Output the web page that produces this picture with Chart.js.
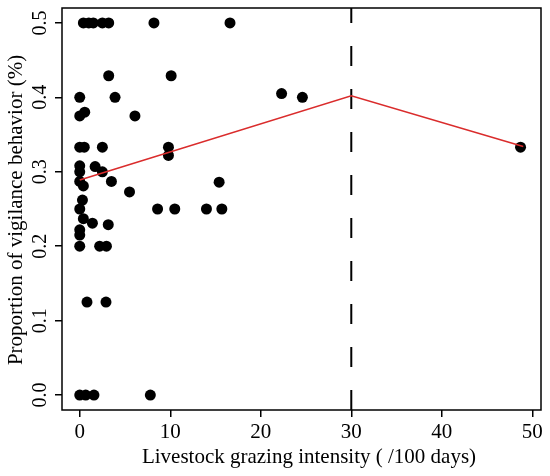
<!DOCTYPE html>
<html>
<head>
<meta charset="utf-8">
<script src="https://cdn.jsdelivr.net/npm/chart.js"></script>
<style>
html, body { margin: 0; padding: 0; background: #fff; }
</style>
</head>
<body>
<canvas id="chart" width="550" height="476"></canvas>
<script>
// Tick labels
var xTicks = [0, 10, 20, 30, 40, 50];
var yTicks = [0.0, 0.1, 0.2, 0.3, 0.4, 0.5];

// Observations: grazing intensity vs proportion of vigilance
var grazing = [0.4, 1.0, 1.5, 2.5, 3.2, 8.2, 16.6,
    3.2, 10.1,
    0, 3.9, 22.3, 24.6,
    0, 0.55, 6.1,
    0, 0.5, 2.5, 9.8, 9.8, 48.7,
    0, 0, 0, 0.4, 1.7, 2.5, 3.5, 5.5, 15.4,
    0.3, 0, 8.6, 10.5, 14.0, 15.7,
    0.4, 1.4, 3.15, 0, 0,
    0, 2.2, 2.95,
    0.8, 2.9,
    0, 0.66, 1.57, 7.8];
var vigilance = [0.5, 0.5, 0.5, 0.5, 0.5, 0.5, 0.5,
    0.429, 0.429,
    0.4, 0.4, 0.405, 0.4,
    0.375, 0.38, 0.375,
    0.333, 0.333, 0.333, 0.333, 0.322, 0.333,
    0.308, 0.3, 0.287, 0.281, 0.307, 0.3, 0.287, 0.273, 0.286,
    0.262, 0.25, 0.25, 0.25, 0.25, 0.25,
    0.237, 0.231, 0.229, 0.222, 0.215,
    0.2, 0.2, 0.2,
    0.125, 0.125,
    0, 0, 0, 0];

// Piecewise fit (red) and breakpoint (dashed)
var fitX = [0, 30, 49];
var fitY = [0.289, 0.402, 0.334];
var breakX = [30, 30];
var breakY = [-0.02, 0.52];

function toPoints(xs, ys) {
    return xs.map(function (x, i) { return { x: x, y: ys[i] }; });
}

var serif = "'Liberation Serif', 'DejaVu Serif', serif";

// Draw box, rotated y labels and titles
var framePlugin = {
    id: 'frame',
    afterDraw: function (chart) {
        var ctx = chart.ctx;
        var a = chart.chartArea;
        var xs = chart.scales.x, ys = chart.scales.y;
        ctx.save();
        ctx.strokeStyle = '#000';
        ctx.lineWidth = 1.5;
        ctx.strokeRect(a.left, a.top, a.right - a.left, a.bottom - a.top);

        ctx.fillStyle = '#000';
        ctx.textAlign = 'center';
        ctx.textBaseline = 'middle';
        ctx.font = '21px ' + serif;
        xTicks.forEach(function (v) {
            ctx.fillText(String(v), xs.getPixelForValue(v), 432);
        });
        ctx.font = '20px ' + serif;
        yTicks.forEach(function (v) {
            ctx.save();
            ctx.translate(41, ys.getPixelForValue(v));
            ctx.rotate(-Math.PI / 2);
            ctx.fillText(v.toFixed(1), 0, 0);
            ctx.restore();
        });

        ctx.font = '21px ' + serif;
        ctx.fillText('Livestock grazing intensity ( /100 days)', 309, 457);
        ctx.save();
        ctx.translate(16, 210);
        ctx.rotate(-Math.PI / 2);
        ctx.fillText('Proportion of vigilance behavior (%)', 0, 0);
        ctx.restore();
        ctx.restore();
    }
};

new Chart(document.getElementById('chart'), {
    type: 'scatter',
    data: {
        datasets: [{
            data: toPoints(fitX, fitY),
            showLine: true,
            borderColor: 'rgb(218, 44, 44)',
            borderWidth: 1.6,
            pointRadius: 0,
            order: 0
        }, {
            data: toPoints(breakX, breakY),
            showLine: true,
            borderColor: '#000',
            borderWidth: 2,
            borderDash: [20, 23],
            pointRadius: 0,
            order: 1
        }, {
            data: toPoints(grazing, vigilance),
            backgroundColor: '#000',
            borderWidth: 0,
            pointRadius: 5.5,
            order: 2
        }]
    },
    options: {
        responsive: false,
        animation: false,
        layout: { padding: { top: 8, right: 9, left: 0, bottom: 0 } },
        plugins: { legend: { display: false }, tooltip: { enabled: false } },
        scales: {
            x: {
                type: 'linear',
                min: -1.96,
                max: 50.96,
                afterBuildTicks: function (s) { s.ticks = xTicks.map(function (v) { return { value: v }; }); },
                afterFit: function (s) { s.height = 66; },
                ticks: { display: false },
                border: { display: false },
                grid: { drawOnChartArea: false, drawTicks: true, tickLength: 7, color: '#000', lineWidth: 1.5 }
            },
            y: {
                type: 'linear',
                min: -0.02,
                max: 0.52,
                afterBuildTicks: function (s) { s.ticks = yTicks.map(function (v) { return { value: v }; }); },
                afterFit: function (s) { s.width = 62; },
                ticks: { display: false },
                border: { display: false },
                grid: { drawOnChartArea: false, drawTicks: true, tickLength: 7, color: '#000', lineWidth: 1.5 }
            }
        }
    },
    plugins: [framePlugin]
});
</script>
</body>
</html>
